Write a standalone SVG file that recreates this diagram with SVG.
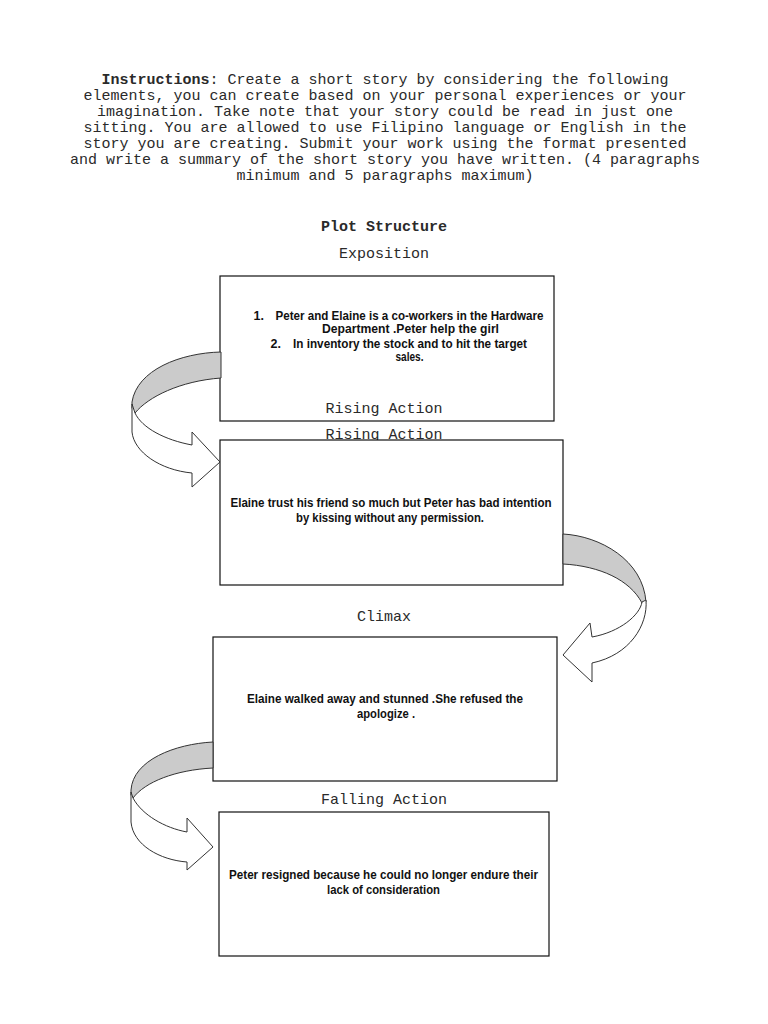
<svg xmlns="http://www.w3.org/2000/svg" width="768" height="1024" viewBox="0 0 768 1024">
<style>
.mono{font-family:"Liberation Mono","Courier New",monospace;font-size:15px;fill:#2a2a2a;text-anchor:middle}
.b{font-weight:bold}
.box{fill:#fff;stroke:#111;stroke-width:1.2}
.bt{font-family:"Liberation Sans",Arial,sans-serif;font-weight:bold;font-size:12.5px;fill:#111}
.gray{fill:#cbcbcb;stroke:#333;stroke-width:1}
.white{fill:#fff;stroke:#333;stroke-width:1}
</style>
<rect width="768" height="1024" fill="#fff"/>
<g id="instructions" class="mono">
<text x="385" y="84"><tspan class="b">Instructions</tspan>: Create a short story by considering the following</text>
<text x="385" y="100">elements, you can create based on your personal experiences or your</text>
<text x="385" y="116">imagination. Take note that your story could be read in just one</text>
<text x="385" y="132">sitting. You are allowed to use Filipino language or English in the</text>
<text x="385" y="148">story you are creating. Submit your work using the format presented</text>
<text x="385" y="164">and write a summary of the short story you have written. (4 paragraphs</text>
<text x="385" y="180">minimum and 5 paragraphs maximum)</text>
</g>
<text class="mono b" x="384" y="231">Plot Structure</text>
<text class="mono" x="384" y="258">Exposition</text>

<g id="box1">
<rect class="box" x="220" y="276" width="334" height="145"/>
<text class="bt" x="253.5" y="319.5">1.</text>
<text class="bt" x="275.5" y="319.5" textLength="268" lengthAdjust="spacingAndGlyphs">Peter and Elaine is a co-workers in the Hardware</text>
<text class="bt" x="322" y="333" textLength="177" lengthAdjust="spacingAndGlyphs">Department .Peter help the girl</text>
<text class="bt" x="270.5" y="347.5">2.</text>
<text class="bt" x="293" y="347.5" textLength="234" lengthAdjust="spacingAndGlyphs">In inventory the stock and to hit the target</text>
<text class="bt" x="395.5" y="361" textLength="28" lengthAdjust="spacingAndGlyphs">sales.</text>
<text class="mono" x="384" y="413">Rising Action</text>
</g>

<text class="mono" x="384" y="439">Rising Action</text>

<g id="box2">
<rect class="box" x="220" y="440" width="343" height="145"/>
<text class="bt" x="230.5" y="507" textLength="321" lengthAdjust="spacingAndGlyphs">Elaine trust his friend so much but Peter has bad intention</text>
<text class="bt" x="296" y="522" textLength="188" lengthAdjust="spacingAndGlyphs">by kissing without any permission.</text>
</g>

<text class="mono" x="384" y="621">Climax</text>

<g id="box3">
<rect class="box" x="213" y="637" width="344" height="144"/>
<text class="bt" x="247" y="702.5" textLength="276" lengthAdjust="spacingAndGlyphs">Elaine walked away and stunned .She refused  the</text>
<text class="bt" x="357" y="717.5" textLength="58" lengthAdjust="spacingAndGlyphs">apologize .</text>
</g>

<text class="mono" x="384" y="804">Falling Action</text>

<g id="box4">
<rect class="box" x="219" y="812" width="330" height="144"/>
<text class="bt" x="229" y="879" textLength="309" lengthAdjust="spacingAndGlyphs">Peter resigned because he could no longer endure their</text>
<text class="bt" x="327" y="894" textLength="113" lengthAdjust="spacingAndGlyphs">lack of consideration</text>
</g>

<g id="connectors">
<g id="arrow1">
<path class="gray" d="M221,352 C180,353 137,370 132,402 L132,408 L135,413 C148,397 180,381 221,378 Z"/>
<path class="white" d="M132,404 L132,432 C134,452 160,470 192,473 L192,487 L220,462 L192,432 L192,445 C165,440 142,428 135,413 Z"/>
</g>
<g id="arrow2">
<path class="gray" d="M563,534 C600,536 643,560 646,602 L642,603 C630,580 600,566 563,564 Z"/>
<path class="white" d="M646,600 C648,625 630,655 592,663 L592,682 L563,655 L590,623 L592,637 C620,632 640,615 642,602 Z"/>
</g>
<g id="arrow3">
<path class="gray" d="M213,742 C175,744 133,760 131,790 L131,795 L133,798 C145,782 175,770 213,768 Z"/>
<path class="white" d="M131,792 L131,822 C133,845 160,860 187,862 L187,870 L213,847 L187,818 L187,832 C165,828 142,815 133,798 Z"/>
</g>
</g>
</svg>
